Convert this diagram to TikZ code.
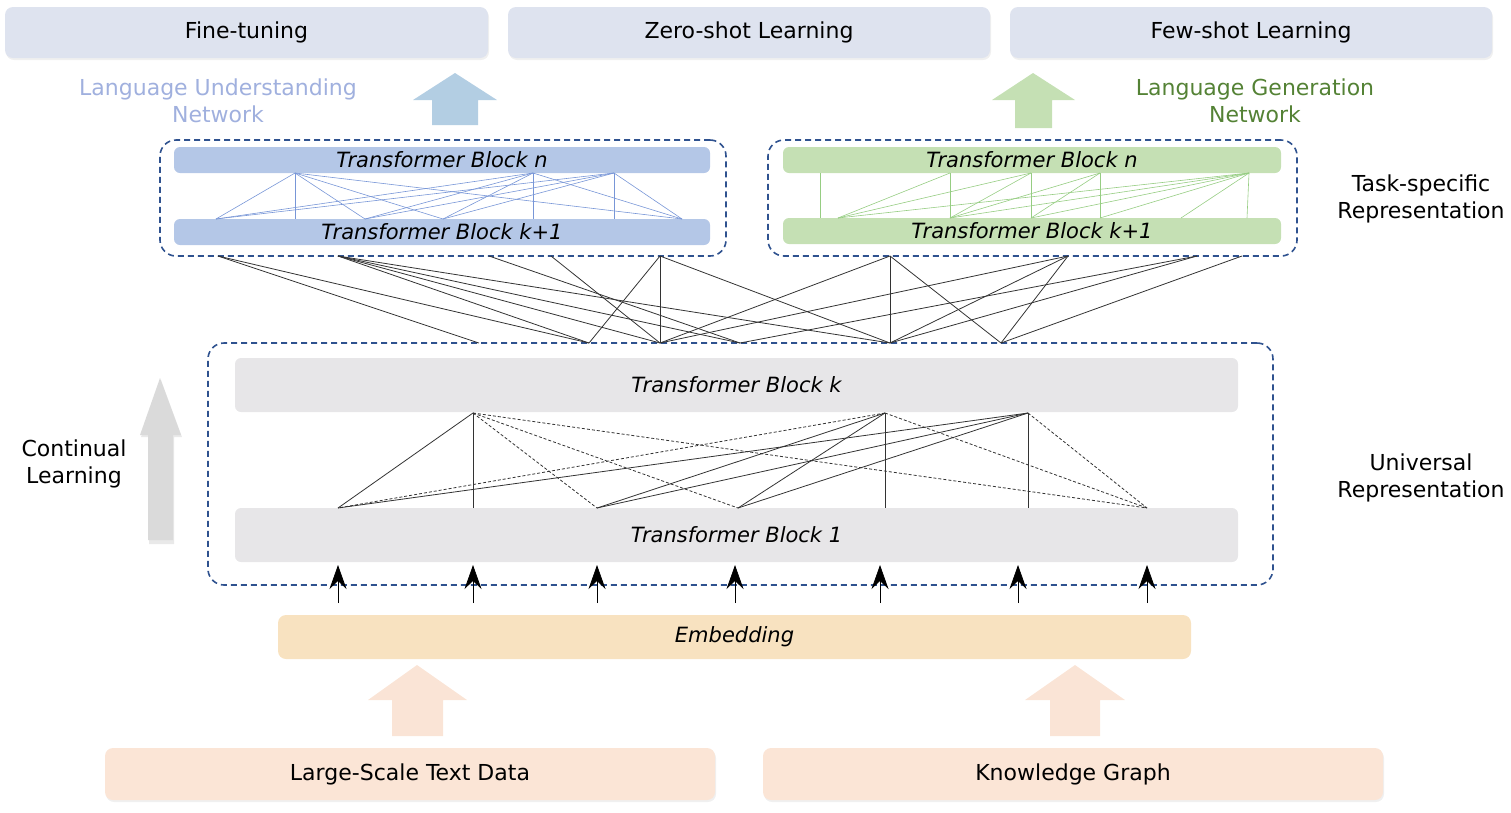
\documentclass[tikz,border=0pt]{standalone}
\usepackage{fontspec}
\setmainfont{DejaVu Sans}
\usetikzlibrary{arrows.meta,shadows}
\definecolor{topbox}{RGB}{222,227,239}
\definecolor{dashblue}{RGB}{47,82,143}
\definecolor{lublue}{RGB}{180,199,231}
\definecolor{lugreen}{RGB}{197,224,180}
\definecolor{bluelines}{RGB}{120,150,215}
\definecolor{greenlines}{RGB}{150,205,130}
\definecolor{lulabel}{RGB}{160,176,222}
\definecolor{lglabel}{RGB}{84,130,53}
\definecolor{blockgrey}{RGB}{231,230,232}
\definecolor{embed}{RGB}{248,226,192}
\definecolor{peach}{RGB}{251,229,214}
\definecolor{peacharrow}{RGB}{250,228,214}
\definecolor{uparrowblue}{RGB}{179,206,227}
\definecolor{uparrowgreen}{RGB}{197,224,180}
\definecolor{clgrey}{RGB}{218,218,218}
\newcommand\mytxt{\fontsize{22}{27}\selectfont}
\newcommand\myblk{\fontsize{21}{27}\selectfont}
\begin{document}
\begin{tikzpicture}[x=1pt,y=-1pt,
  box/.style={rounded corners=8pt, inner sep=0pt, font=\mytxt, text=black},
  shbox/.style={box, drop shadow={opacity=0.12, shadow xshift=1pt, shadow yshift=-2pt}},
  dbox/.style={draw=dashblue, line width=1.6pt, dash pattern=on 6pt off 4pt, rounded corners=16pt, inner sep=0pt},
  blk/.style={rounded corners=6pt, inner sep=0pt, font=\myblk\itshape},
  lab/.style={align=center, font=\mytxt, inner sep=0pt},
  bl/.style={bluelines, line width=0.6pt},
  gl/.style={greenlines, line width=0.6pt},
  kl/.style={black!80, line width=0.8pt},
  kd/.style={black!80, line width=0.8pt, dash pattern=on 3pt off 2pt},
  inarrow/.style={black, line width=0.7pt, -{Stealth[length=24pt,width=17pt,inset=8pt]}},
]
\useasboundingbox (0,0) rectangle (1511,812);

% top boxes
\node[shbox, fill=topbox, minimum width=483pt, minimum height=51pt] (ft) at (246.5,32.5) {Fine-tuning};
\node[shbox, fill=topbox, minimum width=482pt, minimum height=51pt] (zs) at (749,32.5) {Zero-shot Learning};
\node[shbox, fill=topbox, minimum width=482pt, minimum height=51pt] (fs) at (1251,32.5) {Few-shot Learning};

% up arrows top
\fill[uparrowblue] (432,125) -- (432,100) -- (413,100) -- (455,73) -- (497,100) -- (478,100) -- (478,125) -- cycle;
\fill[uparrowgreen] (1015,128) -- (1015,100) -- (992,100) -- (1033,73) -- (1075,100) -- (1052,100) -- (1052,128) -- cycle;

% network labels
\node[lab, text=lulabel] (lun) at (218,101) {Language Understanding\\Network};
\node[lab, text=lglabel] (lgn) at (1255,101) {Language Generation\\Network};

% dashed containers
\node[dbox, minimum width=566pt, minimum height=116pt] (ludash) at (443,198) {};
\node[dbox, minimum width=529pt, minimum height=116pt] (lgdash) at (1032.5,198) {};
\node[dbox, minimum width=1065pt, minimum height=242pt] (udash) at (740.5,464) {};

% task-specific blocks
\node[blk, fill=lublue, minimum width=536pt, minimum height=26pt] (lun1) at (442,160) {Transformer Block n};
\node[blk, fill=lublue, minimum width=536pt, minimum height=26pt] (luk1) at (442,232) {Transformer Block k+1};
\node[blk, fill=lugreen, minimum width=498pt, minimum height=26pt] (lgn1) at (1032,160) {Transformer Block n};
\node[blk, fill=lugreen, minimum width=498pt, minimum height=26pt] (lgk1) at (1032,231) {Transformer Block k+1};

% universal blocks
\node[blk, fill=blockgrey, minimum width=1003pt, minimum height=54pt] (bk) at (736.5,385) {Transformer Block k};
\node[blk, fill=blockgrey, minimum width=1003pt, minimum height=54pt] (b1) at (736.5,535) {\textit{Transformer Block} 1};

% embedding
\node[box, fill=embed, minimum width=913pt, minimum height=44pt, font=\myblk\itshape] (emb) at (734.5,637) {Embedding};

% bottom boxes
\node[shbox, fill=peach, minimum width=610pt, minimum height=52pt] (ltd) at (410,774) {Large-Scale Text Data};
\node[shbox, fill=peach, minimum width=620pt, minimum height=52pt] (kg) at (1073,774) {Knowledge Graph};

% peach arrows
\fill[peacharrow] (392,736) -- (392,700) -- (368,700) -- (417,665) -- (467,700) -- (443,700) -- (443,736) -- cycle;
\fill[peacharrow] (1050,736) -- (1050,700) -- (1025,700) -- (1075,665) -- (1125,700) -- (1100,700) -- (1100,736) -- cycle;

% continual learning arrow
\fill[black!25, opacity=0.35] (149,544) -- (149,437) -- (141,437) -- (161,380) -- (182,437) -- (174,437) -- (174,544) -- cycle;
\fill[clgrey] (148,540) -- (148,435) -- (140,435) -- (160,378) -- (181,435) -- (173,435) -- (173,540) -- cycle;
\node[lab] (cl) at (74,464) {Continual\\Learning};

% side labels
\node[lab] (tsr) at (1421,199) {Task-specific\\Representation};
\node[lab] (ur) at (1421,478) {Universal\\Representation};

% ---- left blue lines
\foreach \n/\x in {a/295,b/533,c/614} \coordinate (lt\n) at (\x,173);
\foreach \n/\x in {1/216,2/295,3/365,4/443,5/533,6/614,7/682} \coordinate (lb\n) at (\x,219);
\foreach \s/\t in {a/1,a/2,a/3,a/4,a/7,b/1,b/3,b/4,b/5,b/7,c/1,c/3,c/4,c/6,c/7}
  \draw[bl] (lt\s) -- (lb\t);

% ---- right green lines
\foreach \n/\x in {1/820,2/950,3/1031,4/1100,5/1249} \coordinate (gt\n) at (\x,173);
\foreach \n/\x in {1/820,2/838,3/950,4/1031,5/1100,6/1181,7/1247} \coordinate (gb\n) at (\x,218);
\foreach \s/\t in {1/1,2/2,2/3,3/2,3/3,3/4,4/3,4/4,4/5,5/2,5/3,5/4,5/5,5/6,5/7}
  \draw[gl] (gt\s) -- (gb\t);

% ---- black lines between task-specific and universal
\foreach \n/\x in {1/218,2/338,3/489,4/551,5/660,6/890,7/1068,8/1197,9/1242} \coordinate (mt\n) at (\x,256);
\foreach \n/\x in {1/479,2/589,3/660,4/740,5/890,6/1001} \coordinate (mb\n) at (\x,343);
\foreach \s/\t in {1/1,1/2,2/2,2/3,2/4,2/5,3/4,4/3,5/2,5/3,5/5,6/3,6/5,6/6,7/3,7/5,7/6,8/4,8/5,9/6}
  \draw[kl] (mt\s) -- (mb\t);

% ---- universal lines
\foreach \n/\x in {1/473,2/885,3/1028} \coordinate (ut\n) at (\x,413);
\foreach \n/\x in {1/338,2/473,3/597,4/738,5/885,6/1028,7/1147} \coordinate (ub\n) at (\x,508);
\foreach \s/\t in {1/1,1/2,2/3,2/4,2/5,3/1,3/3,3/4,3/6}
  \draw[kl] (ut\s) -- (ub\t);
\foreach \s/\t in {1/3,1/4,1/7,2/1,2/7,3/7}
  \draw[kd] (ut\s) -- (ub\t);

% ---- input arrows
\foreach \n/\x in {1/338,2/473,3/597,4/735,5/880,6/1018,7/1147} {
  \coordinate (ia\n) at (\x,603);
  \coordinate (ib\n) at (\x,565);
  \draw[inarrow] (ia\n) -- (ib\n);
}
\end{tikzpicture}
\end{document}
